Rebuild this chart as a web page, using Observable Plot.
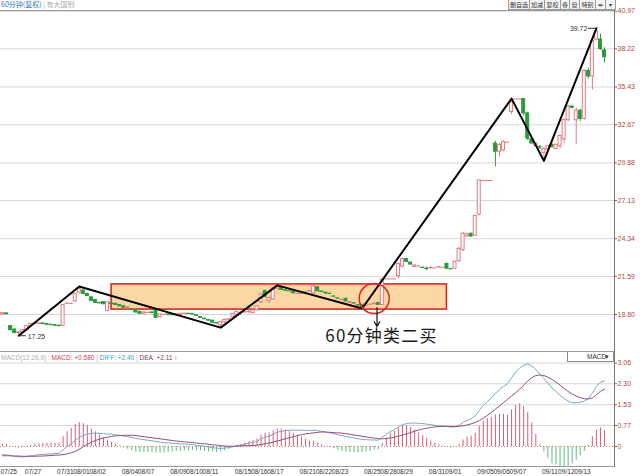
<!DOCTYPE html>
<html><head><meta charset="utf-8">
<script src="https://cdn.jsdelivr.net/npm/d3@7"></script>
<script src="https://cdn.jsdelivr.net/npm/@observablehq/plot@0.6"></script>
<style>
html,body{margin:0;padding:0;background:#fff}
body{width:640px;height:476px;overflow:hidden;position:relative;font-family:"Liberation Sans","Noto Sans CJK SC",sans-serif}
#main{position:absolute;left:0;top:0}
#macd{position:absolute;left:0;top:352px}
.line{position:absolute;background:#9a9a9a}
#hdr{position:absolute;left:1px;top:0px;font-size:7px;line-height:9px;font-family:"Noto Sans CJK SC",sans-serif;white-space:nowrap}
#btns{position:absolute;left:508px;top:0;height:9px;width:106px;display:flex;border:1px solid #9a9a9a;border-top:none;background:#f3f3f3;overflow:hidden}
#btns span{font-size:6px;line-height:9px;text-align:center;border-left:1px solid #9a9a9a;color:#333;font-family:"Noto Sans CJK SC",sans-serif;white-space:nowrap;overflow:hidden;box-sizing:border-box}
#btns span:first-child{border-left:none}
#mh{position:absolute;left:1px;top:353px;font-size:6.5px;line-height:9px;white-space:nowrap}
#mbox{position:absolute;left:567px;top:352px;width:45px;height:9px;border:1px solid #8a8a8a;border-top:none;font-size:6.5px;line-height:9px;color:#333;background:#fff}
</style></head>
<body>
<div id="main"></div>
<div id="macd"></div>
<div id="hdr"><span style="color:#2f78b3">60分钟(复权)</span><span style="color:#aaa"> | 有大国别</span></div>
<div id="btns"><span style="width:20px">删自选</span><span style="width:15px">加减</span><span style="width:16px">复权</span><span style="width:9px">叠</span><span style="width:10px">窗</span><span style="width:16px">特别</span><span style="width:10px">⇹</span><span style="width:10px">▾</span></div>
<div id="mh"><span style="color:#b0b0b0">MACD(12,26,9)</span><span style="color:#b0b0b0"> : </span><span style="color:#cc3d4f">MACD: +0.580</span><span style="color:#b0b0b0"> | </span><span style="color:#3d9ec2">DIFF: +2.40</span><span style="color:#b0b0b0"> | </span><span style="color:#7a3a6a">DEA: +2.11</span><span style="color:#d02a2a"> ↑</span></div>
<div id="mbox"><span style="position:absolute;left:19px">MACD</span><span style="position:absolute;left:37px">▾</span></div>
<div class="line" style="left:0;top:10px;width:615px;height:1px"></div>
<div class="line" style="left:0;top:351px;width:615px;height:1px"></div>
<div class="line" style="left:0;top:466px;width:615px;height:1px"></div>
<div class="line" style="left:614px;top:10px;width:1px;height:457px;background:#777"></div>
<script>
// ---------- data ----------
const days = ["07/25","07/26","07/27","07/28","07/31","08/01","08/02","08/03","08/04","08/07","08/08","08/09","08/10","08/11","08/14","08/15","08/16","08/17","08/18","08/21","08/22","08/23","08/24","08/25","08/28","08/29","08/30","08/31","09/01","09/04","09/05","09/06","09/07","09/08","09/11","09/12","09/13","09/14"];
const shownDays = ["07/25","07/27","07/31","08/01","08/02","08/04","08/07","08/09","08/10","08/11","08/15","08/16","08/17","08/21","08/22","08/23","08/25","08/28","08/29","08/31","09/01","09/05","09/06","09/07","09/11","09/12","09/13"];
const firstDayBars = 2, barsPerDay = 4;

const open = [18.80,18.88,17.95,17.70,17.45,17.50,17.65,17.95,18.10,18.12,
18.15,18.10,18.05,18.02,17.98,17.98,19.58,19.60,19.75,20.40,
20.55,20.30,20.05,19.85,19.65,19.70,19.05,19.62,19.58,19.50,
19.40,19.25,19.15,19.10,19.00,18.85,18.95,18.95,19.05,18.60,
18.80,18.80,18.76,18.76,18.75,18.85,18.86,18.83,18.75,18.62,
18.50,18.40,18.35,18.18,18.00,18.22,18.42,18.60,18.75,18.95,
18.95,18.98,18.90,19.10,19.70,20.50,19.80,19.90,20.70,20.75,
20.58,20.52,20.45,20.35,20.30,20.45,20.48,20.35,20.80,20.48,
20.40,20.32,20.12,19.98,19.90,19.95,19.65,19.62,19.48,19.50,
19.40,19.55,19.55,19.65,19.50,21.40,21.40,21.40,21.60,22.30,
22.85,22.60,22.28,22.35,22.22,22.15,22.18,22.20,22.24,22.25,
22.50,22.12,22.15,22.70,23.50,24.50,24.70,24.55,26.10,28.60,
28.60,28.60,31.30,30.70,30.80,31.40,33.60,34.55,34.55,34.55,
33.50,31.60,31.10,31.05,30.60,30.85,31.20,30.90,31.10,31.60,
33.00,34.00,33.00,33.70,33.10,36.60,36.20,38.90,38.90,38.10];
const high = [18.95,18.92,18.00,17.75,17.55,17.70,18.00,18.15,18.20,18.18,
18.18,18.12,18.08,18.05,18.02,19.55,19.62,19.63,20.35,20.85,
20.60,20.35,20.10,19.90,19.68,19.72,19.75,19.66,19.62,19.52,
19.42,19.35,19.18,19.15,19.02,18.98,18.98,18.97,19.10,18.85,
18.82,18.86,18.80,18.82,18.88,18.88,18.88,18.85,18.77,18.64,
18.52,18.42,18.37,18.20,18.30,18.45,18.48,18.88,19.02,18.98,
18.98,19.08,19.12,19.42,20.30,20.60,20.10,20.75,20.93,20.80,
20.65,20.55,20.48,20.38,20.48,20.48,20.52,20.95,20.82,20.50,
20.42,20.35,20.15,20.00,19.95,19.98,19.75,19.65,19.50,19.55,
19.58,19.57,19.62,19.68,21.40,21.40,21.40,21.40,22.55,22.95,
22.90,22.62,22.42,22.38,22.25,22.28,22.30,22.22,22.28,22.28,
22.55,22.15,22.70,23.70,24.80,24.75,24.75,26.05,28.60,28.60,
28.60,28.60,31.46,31.30,31.50,31.42,34.58,34.55,34.55,34.58,
33.60,31.65,31.35,31.15,31.00,31.15,31.30,31.25,31.90,33.10,
34.10,34.05,33.90,33.80,36.70,36.80,38.85,39.72,39.30,38.30];
const low = [18.75,18.78,17.60,17.40,17.25,17.45,17.60,17.90,18.05,18.08,
18.08,18.02,18.00,17.95,17.90,17.95,19.55,19.57,19.70,20.35,
20.25,20.10,19.75,19.60,19.58,19.52,19.00,19.50,19.48,19.38,
19.28,19.22,19.10,18.90,18.82,18.82,18.92,18.88,18.50,18.55,
18.76,18.70,18.72,18.74,18.73,18.82,18.83,18.78,18.68,18.52,
18.42,18.32,18.18,18.10,17.84,18.15,18.40,18.55,18.72,18.92,
18.90,18.85,18.88,19.05,19.60,20.00,19.60,19.85,20.60,20.55,
20.45,20.48,20.32,20.32,20.28,20.42,20.46,20.30,20.48,20.42,
20.25,20.28,20.05,19.92,19.86,19.72,19.62,19.56,19.42,19.24,
19.38,19.53,19.53,19.48,19.45,21.40,21.40,21.40,21.40,22.20,
22.60,22.42,22.25,22.32,22.18,22.00,22.10,22.18,22.20,22.22,
22.10,22.08,22.10,22.60,23.40,24.45,24.45,24.50,26.00,28.60,
28.60,28.60,29.60,30.30,30.70,31.38,33.40,34.55,34.55,33.30,
31.50,31.25,31.05,30.85,30.03,30.80,30.95,30.85,30.90,31.30,
32.90,33.85,31.25,32.90,33.00,36.00,35.20,38.80,38.10,37.20];
const close = [18.90,18.82,17.65,17.45,17.50,17.65,17.95,18.10,18.12,18.15,
18.10,18.05,18.02,17.98,17.95,19.50,19.60,19.60,20.30,20.65,
20.30,20.15,19.80,19.65,19.62,19.55,19.70,19.55,19.50,19.40,
19.30,19.32,19.12,18.95,18.85,18.95,18.95,18.90,18.55,18.80,
18.80,18.78,18.75,18.80,18.85,18.86,18.85,18.80,18.70,18.55,
18.45,18.35,18.20,18.15,18.25,18.40,18.45,18.85,19.00,18.95,
18.96,19.00,19.10,19.40,20.25,20.10,20.00,20.70,20.85,20.60,
20.55,20.50,20.35,20.35,20.45,20.45,20.50,20.85,20.50,20.45,
20.35,20.30,20.10,19.95,19.90,19.75,19.72,19.60,19.45,19.35,
19.55,19.55,19.60,19.50,21.35,21.40,21.40,21.40,22.50,22.85,
22.65,22.45,22.38,22.35,22.20,22.12,22.20,22.20,22.26,22.25,
22.15,22.10,22.65,23.60,24.70,24.65,24.50,26.00,28.60,28.60,
28.60,28.60,30.70,31.20,31.40,31.40,34.30,34.55,34.55,33.50,
31.65,31.30,31.30,31.00,30.90,31.10,31.05,31.20,31.85,33.00,
34.00,33.90,33.70,33.10,36.60,36.20,38.80,39.50,38.20,37.60];

const diff = [-0.30,-0.30,-0.33,-0.36,-0.38,-0.38,-0.36,-0.34,-0.32,-0.30,
-0.29,-0.28,-0.27,-0.26,-0.25,-0.12,0.00,0.10,0.22,0.34,
0.41,0.46,0.48,0.49,0.48,0.47,0.46,0.45,0.43,0.41,
0.38,0.36,0.33,0.30,0.27,0.25,0.23,0.21,0.18,0.16,
0.14,0.13,0.12,0.11,0.10,0.09,0.08,0.07,0.05,0.03,
0.01,-0.02,-0.04,-0.06,-0.07,-0.06,-0.04,-0.01,0.03,0.06,
0.09,0.12,0.15,0.19,0.28,0.34,0.38,0.45,0.52,0.56,
0.58,0.60,0.60,0.60,0.60,0.59,0.58,0.60,0.58,0.56,
0.53,0.50,0.47,0.43,0.40,0.37,0.34,0.31,0.28,0.26,
0.25,0.24,0.24,0.23,0.33,0.45,0.55,0.62,0.72,0.80,
0.84,0.86,0.86,0.85,0.84,0.82,0.80,0.78,0.76,0.75,
0.73,0.71,0.72,0.78,0.88,0.96,1.02,1.12,1.32,1.50,
1.65,1.78,1.95,2.08,2.20,2.30,2.52,2.72,2.88,2.98,
3.03,2.95,2.82,2.65,2.50,2.32,2.14,2.02,1.88,1.76,
1.66,1.60,1.60,1.62,1.66,1.76,1.96,2.20,2.36,2.40];
const dea = [-0.34,-0.34,-0.34,-0.35,-0.35,-0.36,-0.36,-0.36,-0.36,-0.35,
-0.35,-0.34,-0.33,-0.32,-0.31,-0.30,-0.27,-0.23,-0.18,-0.10,
-0.01,0.08,0.16,0.22,0.27,0.31,0.34,0.37,0.39,0.40,
0.41,0.41,0.41,0.40,0.38,0.36,0.34,0.32,0.30,0.28,
0.26,0.24,0.22,0.20,0.19,0.17,0.16,0.14,0.13,0.11,
0.10,0.08,0.06,0.05,0.03,0.02,0.01,0.01,0.01,0.02,
0.03,0.03,0.04,0.05,0.07,0.10,0.13,0.16,0.20,0.24,
0.28,0.32,0.36,0.40,0.43,0.46,0.48,0.50,0.52,0.53,
0.53,0.52,0.51,0.50,0.49,0.47,0.45,0.42,0.40,0.37,
0.35,0.33,0.31,0.29,0.28,0.29,0.31,0.34,0.38,0.42,
0.46,0.51,0.56,0.60,0.64,0.67,0.70,0.72,0.73,0.74,
0.74,0.74,0.73,0.74,0.76,0.79,0.83,0.88,0.95,1.04,
1.14,1.25,1.37,1.49,1.61,1.73,1.85,1.97,2.10,2.25,
2.40,2.52,2.60,2.62,2.60,2.54,2.46,2.36,2.25,2.13,
2.02,1.92,1.85,1.79,1.75,1.74,1.78,1.90,2.02,2.11];
const macdBar = [0.08,0.08,0.02,-0.02,-0.06,-0.04,0.00,0.04,0.08,0.10,
0.12,0.12,0.12,0.12,0.12,0.36,0.54,0.66,0.80,0.88,
0.84,0.76,0.64,0.54,0.42,0.32,0.24,0.16,0.08,0.02,
-0.06,-0.10,-0.16,-0.20,-0.22,-0.22,-0.22,-0.22,-0.24,-0.24,
-0.24,-0.22,-0.20,-0.18,-0.18,-0.16,-0.16,-0.14,-0.16,-0.16,
-0.18,-0.20,-0.20,-0.22,-0.20,-0.16,-0.10,-0.04,0.04,0.08,
0.12,0.18,0.22,0.28,0.42,0.48,0.50,0.58,0.64,0.64,
0.60,0.56,0.48,0.40,0.34,0.26,0.20,0.20,0.12,0.06,
0.00,-0.04,-0.08,-0.14,-0.18,-0.20,-0.22,-0.22,-0.24,-0.22,
-0.20,-0.18,-0.14,-0.12,0.10,0.32,0.48,0.56,0.68,0.76,
0.76,0.70,0.60,0.50,0.40,0.30,0.20,0.12,0.06,0.02,
-0.02,-0.06,-0.02,0.08,0.24,0.34,0.38,0.48,0.74,0.92,
1.02,1.06,1.16,1.18,1.18,1.14,1.34,1.50,1.56,1.46,
1.26,0.86,0.44,0.06,-0.20,-0.44,-0.64,-0.68,-0.74,-0.74,
-0.72,-0.64,-0.50,-0.34,-0.18,0.04,0.36,0.60,0.68,0.58];

const priceTicks = [18.80,21.59,24.34,27.13,29.88,32.67,35.43,38.22,40.97];
const macdTicks = [0,0.77,1.53,2.30,3.06];

// zigzag strokes (bar index, price)
const zigBar = [4,19,54,68,89,126,134,147];
const zigPrice = [17.25,20.85,17.84,20.93,19.24,34.58,30.03,39.72];
// pivot zone
const zoneBars = [27,110], zonePrices = [19.16,21.00];
// buy point annotation
const buyLabel = "60分钟类二买";
const buyBar = 92, buyPrice = 19.97, arrowFrom = 19.30, arrowTo = 17.92, labelBar = 93.8, labelPrice = 17.18;
const lowLabel = {bar:4, price:17.25, text:"17.25"};
const highLabel = {bar:147, price:39.72, text:"39.72"};

// ---------- build ----------
const UP = "#e07a80", DOWN = "#2c9a3c";
const bars = open.map((o,i)=>({j:i,o,h:high[i],l:low[i],c:close[i],up:close[i]>=o,diff:diff[i],dea:dea[i],m:macdBar[i]}));
const zig = zigBar.map((j,i)=>({j,p:zigPrice[i]}));
const X = {domain:[0,149], range:[2,604]};
const font = "Liberation Sans, sans-serif";

const main = Plot.plot({
  width:640, height:352, marginLeft:0, marginRight:26, marginTop:10, marginBottom:1,
  x:{...X, axis:null, label:null},
  y:{domain:[18.80,40.97], range:[314,10.7], axis:null, label:null},
  style:{fontFamily:font, background:"transparent", overflow:"visible"},
  marks:[
    Plot.gridY(priceTicks,{stroke:"#d6d6d6",strokeOpacity:1}),
    Plot.rect([0],{x1:()=>zoneBars[0],x2:()=>zoneBars[1],y1:()=>zonePrices[0],y2:()=>zonePrices[1],fill:"#fbd7a4",stroke:"#d41e1e",strokeWidth:1.5}),
    Plot.ruleX(bars,{x:"j",y1:"l",y2:"h",stroke:d=>d.up?UP:DOWN,strokeWidth:1}),
    Plot.rect(bars.filter(d=>d.o!==d.c),{x1:d=>d.j-0.37,x2:d=>d.j+0.37,y1:"o",y2:"c",fill:d=>d.up?"#ffffff":DOWN,stroke:d=>d.up?UP:DOWN,strokeWidth:1}),
    Plot.ruleY(bars.filter(d=>d.o===d.c),{y:"c",x1:d=>d.j-0.5,x2:d=>d.j+0.5,stroke:d=>d.up?UP:DOWN}),
    Plot.line(zig,{x:"j",y:"p",stroke:"#000",strokeWidth:2}),
    Plot.dot([0],{x:()=>buyBar,y:()=>buyPrice,r:15,stroke:"#d42a2a",strokeWidth:1.5,fill:"none"}),
    Plot.arrow([0],{x1:()=>buyBar+0.7,x2:()=>buyBar+0.7,y1:()=>arrowFrom,y2:()=>arrowTo,stroke:"#111",strokeWidth:1.2,headLength:7}),
    Plot.text([buyLabel],{x:()=>labelBar,y:()=>labelPrice,text:d=>d,fontSize:17,fill:"#1a1a1a",fontFamily:"Noto Sans CJK SC, sans-serif"}),
    Plot.text([lowLabel],{x:"bar",y:"price",text:"text",dx:9,dy:1,textAnchor:"start",fontSize:7,fill:"#333"}),
    Plot.ruleY([lowLabel],{y:"price",x1:"bar",x2:d=>d.bar+1.9,stroke:"#333"}),
    Plot.text([highLabel],{x:"bar",y:"price",text:"text",dx:-9,textAnchor:"end",fontSize:7,fill:"#333"}),
    Plot.ruleY([highLabel],{y:"price",x1:d=>d.bar-2,x2:"bar",stroke:"#333"}),
    Plot.axisY(priceTicks,{anchor:"right",label:null,tickSize:2,tickPadding:1,tickFormat:d=>d.toFixed(2),fontSize:7,color:"#b04848"})
  ]
});
document.getElementById("main").append(main);
d3.select(main).selectAll("text").filter(function(){return this.textContent===buyLabel;}).attr("letter-spacing","1.2px");

const dayStart = days.map((d,i)=> i===0 ? 0 : firstDayBars+(i-1)*barsPerDay);
const tickBars = shownDays.map(s=>dayStart[days.indexOf(s)]);
const tickName = new Map(shownDays.map((s,k)=>[tickBars[k],s]));

const macd = Plot.plot({
  width:640, height:124, marginLeft:0, marginRight:26, marginTop:0, marginBottom:10,
  x:{...X, axis:null, label:null},
  y:{domain:[0,3.06], range:[94,10.5], axis:null, label:null},
  style:{fontFamily:font, background:"transparent", overflow:"visible"},
  marks:[
    Plot.gridY(macdTicks.filter(v=>v>0),{stroke:"#d6d6d6",strokeOpacity:1}),
    Plot.ruleY([0],{stroke:"#e07070",strokeDasharray:"1,2"}),
    Plot.ruleX(bars,{x:"j",y1:0,y2:"m",stroke:d=>d.m>=0?"#d2607a":"#5cb87e",strokeWidth:1}),
    Plot.line(bars,{x:"j",y:"diff",stroke:"#7fa6c6",strokeWidth:1}),
    Plot.line(bars,{x:"j",y:"dea",stroke:"#955078",strokeWidth:1}),
    Plot.axisY(macdTicks,{anchor:"right",label:null,tickSize:2,tickPadding:1,tickFormat:d=>d===0?"0":d.toFixed(2),fontSize:7,color:"#b04848"}),
    Plot.axisX(tickBars,{anchor:"bottom",label:null,tickSize:0,tickPadding:3,textAnchor:"start",dx:-2,tickFormat:d=>tickName.get(d),fontSize:6.6,color:"#333"})
  ]
});
document.getElementById("macd").append(macd);
</script>
</body></html>
